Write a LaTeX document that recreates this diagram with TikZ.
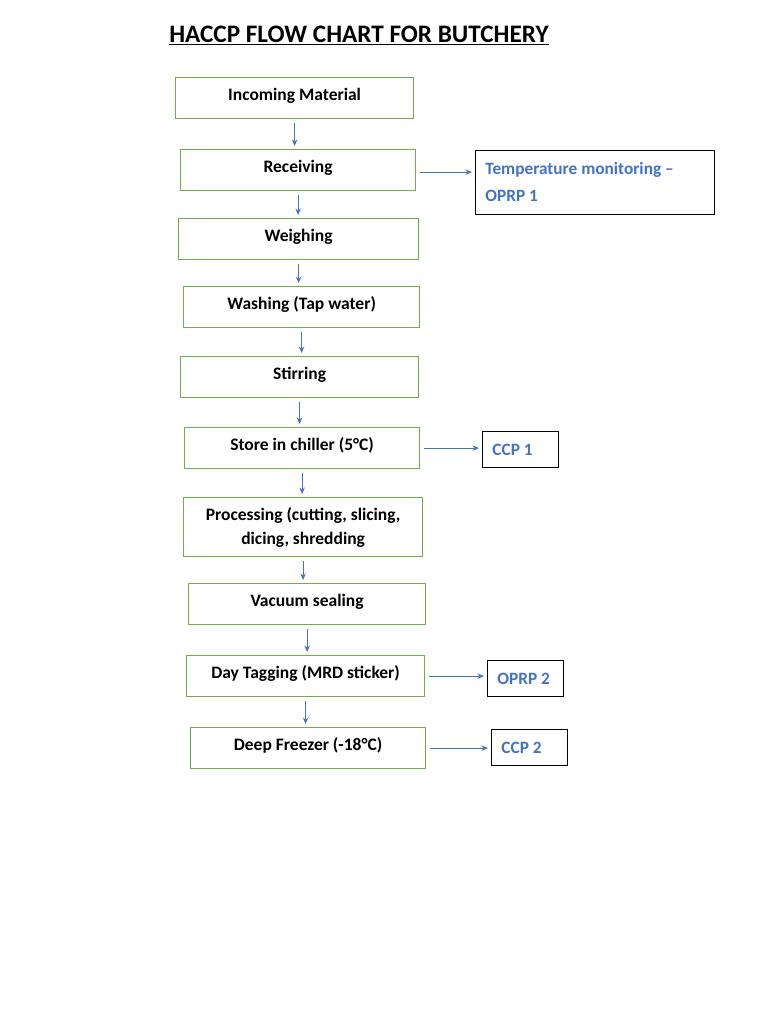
\documentclass[tikz,border=0pt]{standalone}
\usepackage{fontspec}
\setmainfont{Carlito}
\usetikzlibrary{arrows.meta, positioning}
\definecolor{stepgreen}{HTML}{70AD47}
\definecolor{flowblue}{HTML}{4472C4}

\begin{document}
\begin{tikzpicture}[x=1pt, y=-1pt]
    \tikzstyle{stepbox} = [draw=stepgreen, line width=1.2pt, anchor=north west, minimum width=237pt, minimum height=41pt, inner sep=0pt, text height=11pt, text depth=7pt, font=\fontsize{17.5}{21}\selectfont\bfseries];
    \tikzstyle{ctrlbox} = [draw=black, line width=0.9pt, anchor=north west, minimum height=36pt, inner xsep=10pt, inner ysep=0pt, align=flush left, text=flowblue, font=\fontsize{17.3}{27}\selectfont\bfseries];
    \tikzstyle{flow} = [draw=flowblue, line width=0.8pt, -{Stealth[length=6.5pt, width=5.5pt]}, shorten <=4pt, shorten >=3pt];

    \fill[white] (0,0) rectangle (768,1024);
    \useasboundingbox (0,0) rectangle (768,1024);

    \node[anchor=base, font=\fontsize{25.2}{29}\selectfont\bfseries] (title) at (359,43) {\underline{HACCP FLOW CHART FOR BUTCHERY}};

    \node[stepbox, minimum width=238pt] (incoming) at (175,77) {Incoming Material};
    \node[stepbox, minimum width=235pt] (receiving) at (180,149) {Receiving};
    \node[stepbox, minimum width=240pt] (weighing) at (178,218) {Weighing};
    \node[stepbox, minimum width=236pt] (washing) at (183,286) {Washing (Tap water)};
    \node[stepbox, minimum width=238pt] (stirring) at (180,356) {Stirring};
    \node[stepbox, minimum width=235pt] (chiller) at (184,427) {Store in chiller (5°C)};
    \node[stepbox, minimum width=239pt, minimum height=59pt, text height=, text depth=, align=center] (processing) at (183,497) {Processing (cutting, slicing,\\[3pt] dicing, shredding};
    \node[stepbox, minimum width=237pt] (sealing) at (188,583) {Vacuum sealing};
    \node[stepbox, minimum width=238pt] (tagging) at (186,655) {Day Tagging (MRD sticker)};
    \node[stepbox, minimum width=235pt] (freezer) at (190,727) {Deep Freezer (-18°C)};

    \node[ctrlbox, text width=219pt, minimum height=64pt] (oprp1) at (475,150) {Temperature monitoring –\\OPRP 1};
    \node[ctrlbox, text width=56pt] (ccp1) at (482,431) {CCP 1};
    \node[ctrlbox, text width=56pt] (oprp2) at (487,660) {OPRP 2};
    \node[ctrlbox, text width=56pt] (ccp2) at (491,729) {CCP 2};

    % main flow
    \draw[flow] (incoming.south) -- (incoming.south |- receiving.north);
    \draw[flow] (receiving.south) -- (receiving.south |- weighing.north);
    \draw[flow] (weighing.south) -- (weighing.south |- washing.north);
    \draw[flow] (washing.south) -- (washing.south |- stirring.north);
    \draw[flow] (stirring.south) -- (stirring.south |- chiller.north);
    \draw[flow] (chiller.south) -- (chiller.south |- processing.north);
    \draw[flow] (processing.south) -- (processing.south |- sealing.north);
    \draw[flow] (sealing.south) -- (sealing.south |- tagging.north);
    \draw[flow] (tagging.south) -- (tagging.south |- freezer.north);

    % control points
    \draw[flow] ([yshift=-2pt]receiving.east) -- ([yshift=-2pt]receiving.east -| oprp1.west);
    \draw[flow] (chiller.east) -- (chiller.east -| ccp1.west);
    \draw[flow] (tagging.east) -- (tagging.east -| oprp2.west);
    \draw[flow] (freezer.east) -- (freezer.east -| ccp2.west);
\end{tikzpicture}
\end{document}
